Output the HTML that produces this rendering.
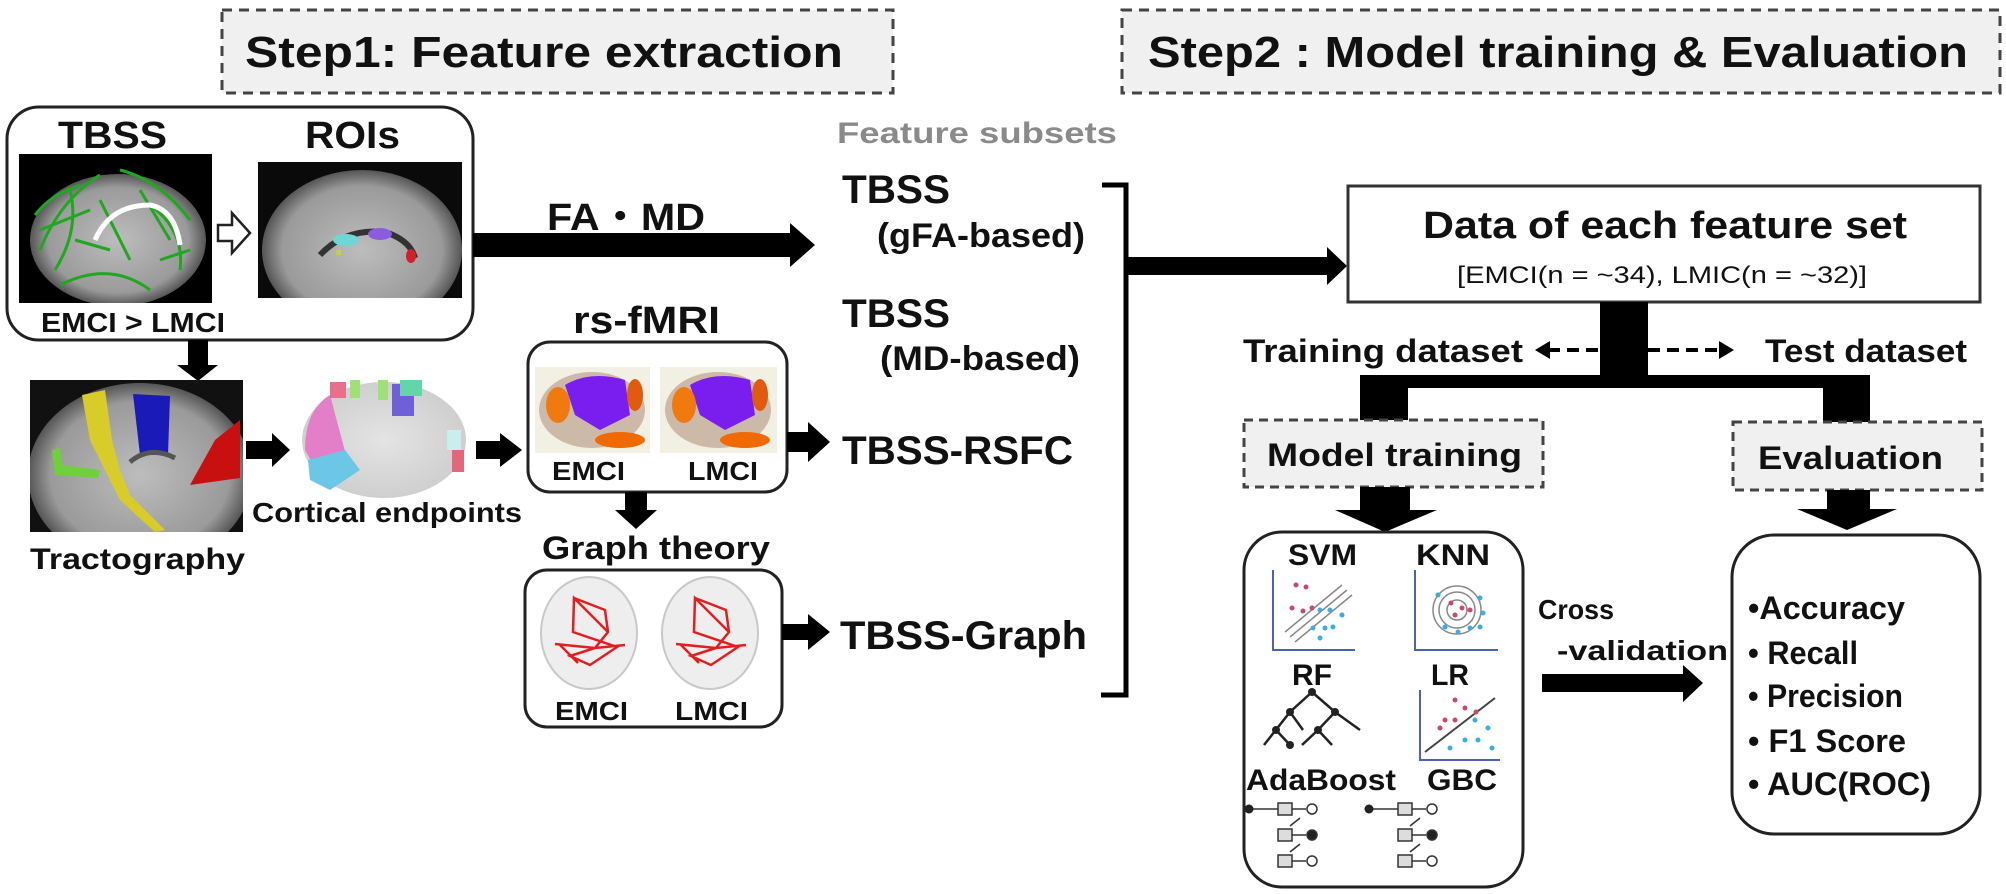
<!DOCTYPE html>
<html><head><meta charset="utf-8"><style>
html,body{margin:0;padding:0;background:#fff;}
svg{display:block;}
text{font-family:"Liberation Sans",Arial,sans-serif;font-weight:bold;fill:#111;}
</style></head><body>
<svg width="2006" height="894" viewBox="0 0 2006 894" xmlns="http://www.w3.org/2000/svg">
<defs>
<radialGradient id="gb" cx="50%" cy="50%" r="50%"><stop offset="0" stop-color="#bdbdbd"/><stop offset="0.8" stop-color="#9a9a9a"/><stop offset="1" stop-color="#555"/></radialGradient>
<radialGradient id="gl" cx="50%" cy="50%" r="50%"><stop offset="0" stop-color="#e4e4e4"/><stop offset="1" stop-color="#cfcfcf"/></radialGradient>
<clipPath id="c1"><rect x="19" y="154" width="193" height="149"/></clipPath>
<clipPath id="c2"><rect x="258" y="162" width="204" height="136"/></clipPath>
<clipPath id="c3"><rect x="30" y="380" width="213" height="152"/></clipPath>
</defs>

<rect x="222" y="10" width="671" height="83" fill="#f0f0f0" stroke="#444" stroke-width="3" stroke-dasharray="10,7"/>
<text x="245" y="67" font-size="44" textLength="598" lengthAdjust="spacingAndGlyphs">Step1:  Feature extraction</text>
<rect x="1122" y="10" width="878" height="83" fill="#f0f0f0" stroke="#444" stroke-width="3" stroke-dasharray="10,7"/>
<text x="1148" y="67" font-size="44" textLength="820" lengthAdjust="spacingAndGlyphs">Step2 : Model training &amp; Evaluation</text>

<rect x="7" y="107" width="466" height="233" rx="32" fill="#fff" stroke="#222" stroke-width="3"/>
<text x="58" y="148" font-size="38" textLength="109" lengthAdjust="spacingAndGlyphs">TBSS</text>
<text x="305" y="148" font-size="38" textLength="95" lengthAdjust="spacingAndGlyphs">ROIs</text>
<rect x="19" y="154" width="193" height="149" fill="#000"/>
<g clip-path="url(#c1)">
<ellipse cx="118" cy="240" rx="88" ry="66" fill="url(#gb)"/>
<g stroke="#1fa81f" stroke-width="3" fill="none">
<path d="M40 250 Q60 200 100 175 M55 270 Q80 230 70 190 M120 170 Q160 180 190 220 M40 230 L90 210 M140 190 L170 240 M60 285 Q110 260 150 290 M100 200 L130 260 M150 205 Q185 230 180 270 M35 215 Q50 195 80 185 M75 240 L110 250 M160 260 L190 250"/>
</g>
<path d="M95 240 Q110 205 150 205 Q175 210 180 245" stroke="#fff" stroke-width="5" fill="none"/>
</g>
<text x="41" y="332" font-size="28" textLength="184" lengthAdjust="spacingAndGlyphs">EMCI &gt; LMCI</text>
<path d="M218 225 L232 225 L232 213 L250 233 L232 253 L232 241 L218 241 Z" fill="#fff" stroke="#222" stroke-width="2.5"/>
<rect x="258" y="162" width="204" height="136" fill="#0a0a0a"/>
<g clip-path="url(#c2)">
<ellipse cx="362" cy="250" rx="100" ry="80" fill="url(#gb)"/>
<path d="M320 255 Q345 228 385 232 Q410 240 415 258" stroke="#333" stroke-width="6" fill="none"/>
<ellipse cx="346" cy="240" rx="13" ry="6" fill="#6fd6d6"/>
<ellipse cx="380" cy="234" rx="12" ry="6" fill="#8a5ce0"/>
<ellipse cx="411" cy="256" rx="5" ry="7" fill="#d0202a"/>
<rect x="336" y="250" width="5" height="5" fill="#c8d040"/>
</g>
<text x="547" y="230" font-size="38" textLength="158" lengthAdjust="spacingAndGlyphs">FA・MD</text>
<path d="M473 233 L790 233 L790 223 L815 245 L790 267 L790 257 L473 257 Z" fill="#000"/>

<path d="M188 340 L208 340 L208 365 L218 365 L198 381 L177 365 L188 365 Z" fill="#000"/>
<rect x="30" y="380" width="213" height="152" fill="#111"/>
<g clip-path="url(#c3)">
<ellipse cx="140" cy="475" rx="112" ry="92" fill="url(#gb)"/>
<path d="M82 395 L105 390 L112 440 L120 470 L130 495 L165 530 L155 532 L120 500 L105 470 L90 440 Z" fill="#d8cc2a"/>
<path d="M133 394 L170 396 L168 455 L140 455 Z" fill="#1a1ab8"/>
<path d="M215 440 L240 420 L240 478 L190 485 Z" fill="#c81010"/>
<path d="M52 450 L60 448 L62 465 L100 470 L98 478 L55 475 Z" fill="#6fd13a"/>
<path d="M130 462 Q150 445 175 458" stroke="#555" stroke-width="5" fill="none"/>
</g>
<text x="30" y="569" font-size="30" textLength="215" lengthAdjust="spacingAndGlyphs">Tractography</text>
<path d="M246 441 L272 441 L272 433 L290 450 L272 467 L272 459 L246 459 Z" fill="#000"/>
<ellipse cx="384" cy="440" rx="82" ry="58" fill="url(#gl)"/>
<path d="M305 450 Q305 410 330 395 L350 470 L325 485 Z" fill="#e27fc8"/>
<path d="M308 460 L345 450 L360 470 L330 490 L310 480 Z" fill="#6cc6e6"/>
<rect x="330" y="382" width="16" height="16" fill="#e8708a"/>
<rect x="350" y="380" width="10" height="18" fill="#9ee07a"/>
<rect x="378" y="380" width="10" height="20" fill="#9ee07a"/>
<rect x="392" y="384" width="22" height="32" fill="#7060d8"/>
<rect x="400" y="380" width="22" height="16" fill="#62d6a8"/>
<rect x="447" y="430" width="14" height="20" fill="#c8eeee"/>
<rect x="452" y="450" width="12" height="22" fill="#e06878"/>
<text x="252" y="522" font-size="28" textLength="270" lengthAdjust="spacingAndGlyphs">Cortical endpoints</text>
<path d="M476 441 L500 441 L500 433 L522 450 L500 467 L500 459 L476 459 Z" fill="#000"/>

<text x="573" y="333" font-size="38" textLength="147" lengthAdjust="spacingAndGlyphs">rs-fMRI</text>
<rect x="528" y="342" width="259" height="150" rx="22" fill="#fff" stroke="#222" stroke-width="3"/>
<rect x="535" y="367" width="115" height="86" fill="#f2f0e2"/>
<rect x="660" y="367" width="117" height="86" fill="#f2f0e2"/>
<ellipse cx="592" cy="410" rx="53" ry="38" fill="#cdb9a8"/>
<path d="M565 385 Q590 370 625 380 L630 415 L600 430 L575 415 Z" fill="#7a1ef0"/>
<ellipse cx="558" cy="405" rx="12" ry="18" fill="#f07a10"/>
<ellipse cx="620" cy="440" rx="25" ry="8" fill="#f06a00"/>
<ellipse cx="635" cy="395" rx="8" ry="16" fill="#e05a10"/>
<ellipse cx="718" cy="410" rx="53" ry="38" fill="#cdb9a8"/>
<path d="M690 385 Q715 370 750 380 L755 415 L725 430 L700 415 Z" fill="#7a1ef0"/>
<ellipse cx="684" cy="405" rx="12" ry="18" fill="#f07a10"/>
<ellipse cx="745" cy="440" rx="25" ry="8" fill="#f06a00"/>
<ellipse cx="760" cy="395" rx="8" ry="16" fill="#e05a10"/>
<text x="552" y="480" font-size="26" textLength="73" lengthAdjust="spacingAndGlyphs">EMCI</text>
<text x="688" y="480" font-size="26" textLength="70" lengthAdjust="spacingAndGlyphs">LMCI</text>
<path d="M787 432 L808 432 L808 422 L830 442 L808 462 L808 452 L787 452 Z" fill="#000"/>
<path d="M625 492 L647 492 L647 510 L657 510 L636 529 L615 510 L625 510 Z" fill="#000"/>
<text x="542" y="559" font-size="32" textLength="228" lengthAdjust="spacingAndGlyphs">Graph theory</text>
<rect x="525" y="570" width="257" height="157" rx="22" fill="#fff" stroke="#222" stroke-width="3"/>
<g fill="#eeeeee" stroke="#c8c8c8" stroke-width="2">
<ellipse cx="589" cy="633" rx="48" ry="56"/>
<ellipse cx="710" cy="633" rx="48" ry="56"/>
</g>
<g stroke="#e02020" stroke-width="2.5" fill="none">
<path d="M574 598 L605 610 L608 632 L595 648 L570 656 L590 665 L617 647 L573 632 L574 598 L608 632 M555 644 L595 648 L625 645 M560 645 L578 663"/>
<path d="M695 598 L726 610 L729 632 L716 648 L691 656 L711 665 L738 647 L694 632 L695 598 L729 632 M676 644 L716 648 L746 645 M681 645 L699 663"/>
</g>
<text x="555" y="720" font-size="26" textLength="73" lengthAdjust="spacingAndGlyphs">EMCI</text>
<text x="675" y="720" font-size="26" textLength="73" lengthAdjust="spacingAndGlyphs">LMCI</text>
<path d="M782 624 L808 624 L808 614 L830 632 L808 650 L808 640 L782 640 Z" fill="#000"/>

<text x="837" y="143" font-size="30" style="fill:#8a8a8a" textLength="280" lengthAdjust="spacingAndGlyphs">Feature subsets</text>
<text x="842" y="203" font-size="40" textLength="108" lengthAdjust="spacingAndGlyphs">TBSS</text>
<text x="877" y="247" font-size="34" textLength="208" lengthAdjust="spacingAndGlyphs">(gFA-based)</text>
<text x="842" y="327" font-size="40" textLength="108" lengthAdjust="spacingAndGlyphs">TBSS</text>
<text x="880" y="370" font-size="34" textLength="200" lengthAdjust="spacingAndGlyphs">(MD-based)</text>
<text x="842" y="464" font-size="40" textLength="231" lengthAdjust="spacingAndGlyphs">TBSS-RSFC</text>
<text x="840" y="649" font-size="40" textLength="247" lengthAdjust="spacingAndGlyphs">TBSS-Graph</text>
<path d="M1102 185 L1126 185 L1126 695 L1101 695" fill="none" stroke="#000" stroke-width="5"/>
<path d="M1126 257 L1327 257 L1327 247 L1347 266 L1327 285 L1327 275 L1126 275 Z" fill="#000"/>

<rect x="1348" y="186" width="632" height="116" fill="#fff" stroke="#333" stroke-width="3"/>
<text x="1423" y="238" font-size="38" textLength="484" lengthAdjust="spacingAndGlyphs">Data of each feature set</text>
<text x="1457" y="283" font-size="24" style="font-weight:normal" textLength="410" lengthAdjust="spacingAndGlyphs">[EMCI(n = ~34), LMIC(n = ~32)]</text>
<rect x="1600" y="302" width="48" height="86" fill="#000"/>
<rect x="1360" y="375" width="510" height="13" fill="#000"/>
<rect x="1360" y="375" width="48" height="45" fill="#000"/>
<rect x="1823" y="375" width="47" height="47" fill="#000"/>
<g stroke="#000" stroke-width="4" stroke-dasharray="12,7" fill="none">
<line x1="1548" y1="350" x2="1600" y2="350"/>
<line x1="1648" y1="350" x2="1720" y2="350"/>
</g>
<path d="M1535 350 L1550 341 L1550 359 Z" fill="#000"/>
<path d="M1734 350 L1719 341 L1719 359 Z" fill="#000"/>
<text x="1243" y="362" font-size="32" textLength="280" lengthAdjust="spacingAndGlyphs">Training dataset</text>
<text x="1765" y="362" font-size="32" textLength="202" lengthAdjust="spacingAndGlyphs">Test dataset</text>
<rect x="1244" y="420" width="299" height="67" fill="#f0f0f0" stroke="#444" stroke-width="3" stroke-dasharray="9,6"/>
<text x="1267" y="466" font-size="32" textLength="255" lengthAdjust="spacingAndGlyphs">Model training</text>
<rect x="1733" y="422" width="249" height="68" fill="#f0f0f0" stroke="#444" stroke-width="3" stroke-dasharray="9,6"/>
<text x="1758" y="469" font-size="32" textLength="185" lengthAdjust="spacingAndGlyphs">Evaluation</text>
<path d="M1360 487 L1410 487 L1410 510 L1437 510 L1385 532 L1335 510 L1360 510 Z" fill="#000"/>
<path d="M1827 490 L1870 490 L1870 509 L1897 509 L1847 530 L1797 509 L1827 509 Z" fill="#000"/>

<rect x="1244" y="532" width="279" height="355" rx="38" fill="#fff" stroke="#222" stroke-width="3"/>
<text x="1288" y="565" font-size="30" textLength="69" lengthAdjust="spacingAndGlyphs">SVM</text>
<text x="1416" y="565" font-size="30" textLength="74" lengthAdjust="spacingAndGlyphs">KNN</text>
<g stroke="#4a62b0" stroke-width="2" fill="none">
<path d="M1273 570 L1273 650 L1355 650"/><path d="M1415 570 L1415 650 L1498 650"/>
<path d="M1420 690 L1420 760 L1500 760"/>
</g>
<g stroke="#888" stroke-width="1.5" fill="none">
<line x1="1285" y1="632" x2="1342" y2="585"/><line x1="1290" y1="637" x2="1347" y2="590"/><line x1="1295" y1="642" x2="1352" y2="595"/>
<circle cx="1457" cy="610" r="10"/><circle cx="1457" cy="610" r="18"/><circle cx="1457" cy="610" r="24"/>
<line x1="1425" y1="752" x2="1495" y2="698" stroke="#444" stroke-width="2"/>
</g>
<g fill="#c84a6a">
<circle cx="1296" cy="585" r="2.5"/><circle cx="1306" cy="587" r="2.5"/><circle cx="1292" cy="608" r="2.5"/><circle cx="1303" cy="611" r="2.5"/><circle cx="1312" cy="608" r="2.5"/>
<circle cx="1451" cy="603" r="2.5"/><circle cx="1462" cy="608" r="2.5"/><circle cx="1455" cy="615" r="2.5"/><circle cx="1470" cy="610" r="2.5"/>
<circle cx="1455" cy="700" r="2.5"/><circle cx="1465" cy="708" r="2.5"/><circle cx="1445" cy="720" r="2.5"/><circle cx="1440" cy="728" r="2.5"/><circle cx="1455" cy="720" r="2.5"/><circle cx="1476" cy="712" r="2.5"/>
</g>
<g fill="#3aaee0">
<circle cx="1320" cy="610" r="2.5"/><circle cx="1330" cy="610" r="2.5"/><circle cx="1342" cy="615" r="2.5"/><circle cx="1313" cy="628" r="2.5"/><circle cx="1325" cy="628" r="2.5"/><circle cx="1320" cy="638" r="2.5"/><circle cx="1333" cy="627" r="2.5"/>
<circle cx="1438" cy="595" r="2.5"/><circle cx="1480" cy="598" r="2.5"/><circle cx="1483" cy="613" r="2.5"/><circle cx="1445" cy="627" r="2.5"/><circle cx="1458" cy="632" r="2.5"/><circle cx="1470" cy="628" r="2.5"/><circle cx="1480" cy="627" r="2.5"/>
<circle cx="1475" cy="720" r="2.5"/><circle cx="1488" cy="728" r="2.5"/><circle cx="1465" cy="740" r="2.5"/><circle cx="1478" cy="740" r="2.5"/><circle cx="1450" cy="748" r="2.5"/><circle cx="1492" cy="748" r="2.5"/>
</g>
<text x="1292" y="685" font-size="30" textLength="40" lengthAdjust="spacingAndGlyphs">RF</text>
<text x="1431" y="685" font-size="30" textLength="38" lengthAdjust="spacingAndGlyphs">LR</text>
<g stroke="#222" stroke-width="2.5" fill="none">
<path d="M1312 692 L1290 712 L1264 745 M1290 712 L1303 730 M1276 730 L1290 745 M1312 692 L1335 712 L1318 730 L1302 745 M1318 730 L1332 745 M1335 712 L1360 730"/>
</g>
<g fill="#222"><circle cx="1312" cy="692" r="4"/><circle cx="1290" cy="712" r="4"/><circle cx="1335" cy="712" r="4"/><circle cx="1276" cy="730" r="4"/><circle cx="1318" cy="730" r="4"/><circle cx="1290" cy="745" r="4"/></g>
<text x="1246" y="790" font-size="30" textLength="150" lengthAdjust="spacingAndGlyphs">AdaBoost</text>
<text x="1427" y="790" font-size="30" textLength="70" lengthAdjust="spacingAndGlyphs">GBC</text>
<g stroke="#333" stroke-width="1.5">
<g fill="#ddd"><rect x="1278" y="803" width="14" height="12"/><rect x="1278" y="829" width="14" height="12"/><rect x="1278" y="855" width="14" height="12"/>
<rect x="1398" y="803" width="14" height="12"/><rect x="1398" y="829" width="14" height="12"/><rect x="1398" y="855" width="14" height="12"/></g>
<path d="M1247 809 L1278 809 M1292 809 L1306 809 M1292 835 L1306 835 M1292 861 L1306 861 M1300 818 L1290 826 M1300 844 L1290 852 M1367 809 L1398 809 M1412 809 L1426 809 M1412 835 L1426 835 M1412 861 L1426 861 M1420 818 L1410 826 M1420 844 L1410 852" fill="none"/>
<circle cx="1312" cy="809" r="5" fill="#fff"/><circle cx="1312" cy="835" r="5" fill="#222"/><circle cx="1312" cy="861" r="5" fill="#fff"/>
<circle cx="1432" cy="809" r="5" fill="#fff"/><circle cx="1432" cy="835" r="5" fill="#222"/><circle cx="1432" cy="861" r="5" fill="#fff"/>
</g>
<circle cx="1249" cy="809" r="4.5" fill="#222"/><circle cx="1369" cy="809" r="4.5" fill="#222"/>

<text x="1538" y="619" font-size="28" textLength="76" lengthAdjust="spacingAndGlyphs">Cross</text>
<text x="1557" y="660" font-size="28" textLength="171" lengthAdjust="spacingAndGlyphs">-validation</text>
<path d="M1542 674 L1683 674 L1683 665 L1703 683 L1683 702 L1683 692 L1542 692 Z" fill="#000"/>

<rect x="1732" y="535" width="248" height="299" rx="42" fill="#fff" stroke="#222" stroke-width="3"/>
<text x="1748" y="619" font-size="32" textLength="157" lengthAdjust="spacingAndGlyphs">•Accuracy</text>
<text x="1748" y="664" font-size="32" textLength="110" lengthAdjust="spacingAndGlyphs">• Recall</text>
<text x="1748" y="707" font-size="32" textLength="155" lengthAdjust="spacingAndGlyphs">• Precision</text>
<text x="1748" y="752" font-size="32" textLength="158" lengthAdjust="spacingAndGlyphs">• F1 Score</text>
<text x="1748" y="795" font-size="32" textLength="183" lengthAdjust="spacingAndGlyphs">• AUC(ROC)</text>
</svg>
</body></html>
